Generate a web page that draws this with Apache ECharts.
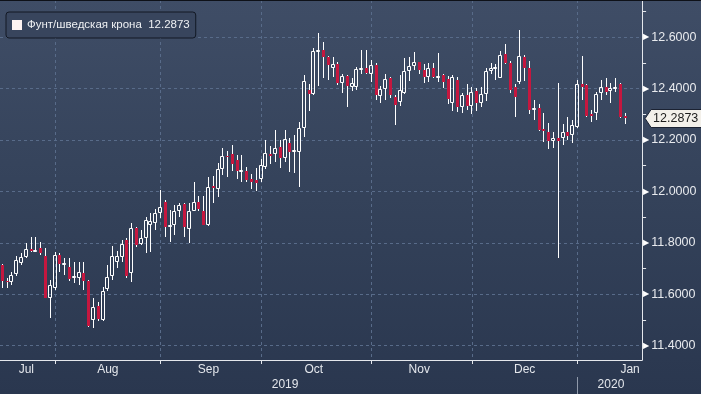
<!DOCTYPE html>
<html><head><meta charset="utf-8">
<script src="https://cdn.jsdelivr.net/npm/echarts@6/dist/echarts.min.js"></script>
<style>
html,body{margin:0;padding:0;background:#2c3a52;}
#c{width:701px;height:394px;background:linear-gradient(to bottom,#3f4d66 0%,#34425a 50%,#2a374f 100%);}
</style></head><body><div id="c"></div>
<script>
const seriesName = 'Фунт/шведская крона';
const lastPrice = 12.2873;

const dates = [
'2019-07-17','2019-07-18','2019-07-19','2019-07-22','2019-07-23','2019-07-24','2019-07-25','2019-07-26','2019-07-29','2019-07-30','2019-07-31',
'2019-08-01','2019-08-02','2019-08-05','2019-08-06','2019-08-07','2019-08-08','2019-08-09','2019-08-12','2019-08-13','2019-08-14','2019-08-15','2019-08-16','2019-08-19','2019-08-20','2019-08-21','2019-08-22','2019-08-23','2019-08-26','2019-08-27','2019-08-28','2019-08-29','2019-08-30',
'2019-09-02','2019-09-03','2019-09-04','2019-09-05','2019-09-06','2019-09-09','2019-09-10','2019-09-11','2019-09-12','2019-09-13','2019-09-16','2019-09-17','2019-09-18','2019-09-19','2019-09-20','2019-09-23','2019-09-24','2019-09-25','2019-09-26','2019-09-27','2019-09-30',
'2019-10-01','2019-10-02','2019-10-03','2019-10-04','2019-10-07','2019-10-08','2019-10-09','2019-10-10','2019-10-11','2019-10-14','2019-10-15','2019-10-16','2019-10-17','2019-10-18','2019-10-21','2019-10-22','2019-10-23','2019-10-24','2019-10-25','2019-10-28','2019-10-29','2019-10-30','2019-10-31',
'2019-11-01','2019-11-04','2019-11-05','2019-11-06','2019-11-07','2019-11-08','2019-11-11','2019-11-12','2019-11-13','2019-11-14','2019-11-15','2019-11-18','2019-11-19','2019-11-20','2019-11-21','2019-11-22','2019-11-25','2019-11-26','2019-11-27','2019-11-28','2019-11-29',
'2019-12-02','2019-12-03','2019-12-04','2019-12-05','2019-12-06','2019-12-09','2019-12-10','2019-12-11','2019-12-12','2019-12-13','2019-12-16','2019-12-17','2019-12-18','2019-12-19','2019-12-20','2019-12-23','2019-12-24','2019-12-25','2019-12-26','2019-12-27','2019-12-30','2019-12-31',
'2020-01-01','2020-01-02','2020-01-03','2020-01-06','2020-01-07','2020-01-08','2020-01-09','2020-01-10','2020-01-13','2020-01-14','2020-01-15','2020-01-16','2020-01-17','2020-01-20'
];

const open = [
11.712,11.652,11.647,11.678,11.721,11.743,11.777,11.770,11.779,11.749,11.585,
11.624,11.753,11.712,11.705,11.662,11.665,11.682,11.652,11.500,11.556,11.500,11.620,11.669,11.727,11.746,11.811,11.682,11.857,11.796,11.818,11.870,11.876,
11.915,11.960,11.866,11.870,11.922,11.951,11.853,11.922,11.957,11.925,11.870,12.021,12.008,12.086,12.138,12.146,12.122,12.080,12.081,12.048,12.045,
12.047,12.095,12.146,12.147,12.174,12.130,12.190,12.155,12.155,12.248,12.395,12.378,12.547,12.550,12.522,12.482,12.496,12.421,12.448,12.408,12.405,12.479,12.482,
12.457,12.492,12.372,12.397,12.440,12.369,12.349,12.384,12.469,12.488,12.505,12.473,12.444,12.481,12.447,12.453,12.437,12.345,12.435,12.330,12.376,
12.334,12.389,12.343,12.378,12.469,12.481,12.443,12.534,12.499,12.408,12.425,12.525,12.479,12.316,12.324,12.242,12.230,12.197,12.207,12.207,12.230,12.220,
12.252,12.417,12.414,12.300,12.304,12.382,12.408,12.391,12.398,12.417,12.293
];
const close = [
11.650,11.647,11.675,11.734,11.744,11.775,11.769,11.773,11.762,11.587,11.634,
11.753,11.717,11.721,11.659,11.669,11.686,11.650,11.477,11.552,11.504,11.611,11.666,11.747,11.749,11.796,11.669,11.857,11.792,11.818,11.889,11.883,11.915,
11.941,11.863,11.870,11.922,11.947,11.863,11.922,11.957,11.931,11.870,12.016,12.012,12.086,12.136,12.133,12.105,12.081,12.084,12.045,12.036,12.032,
12.103,12.150,12.137,12.168,12.132,12.205,12.153,12.160,12.246,12.430,12.380,12.546,12.550,12.522,12.492,12.495,12.421,12.449,12.409,12.423,12.475,12.482,12.460,
12.492,12.375,12.397,12.439,12.375,12.336,12.395,12.469,12.488,12.505,12.473,12.445,12.481,12.447,12.450,12.424,12.361,12.446,12.329,12.376,12.334,
12.386,12.343,12.378,12.469,12.479,12.483,12.531,12.499,12.395,12.369,12.529,12.479,12.315,12.326,12.239,12.235,12.198,12.207,12.196,12.230,12.217,12.259,
12.417,12.408,12.295,12.294,12.378,12.405,12.388,12.401,12.405,12.289,12.2873
];
const low = [
11.626,11.626,11.637,11.669,11.714,11.740,11.766,11.764,11.753,11.585,11.507,
11.617,11.688,11.675,11.652,11.643,11.637,11.617,11.474,11.468,11.494,11.494,11.611,11.656,11.701,11.727,11.662,11.649,11.785,11.792,11.759,11.766,11.850,
11.896,11.824,11.805,11.831,11.902,11.824,11.798,11.922,11.925,11.868,11.867,11.954,11.980,12.065,12.058,12.080,12.050,12.038,12.038,12.008,12.003,
12.038,12.087,12.106,12.116,12.093,12.115,12.077,12.070,12.016,12.213,12.313,12.374,12.410,12.440,12.434,12.447,12.414,12.382,12.330,12.392,12.395,12.457,12.457,
12.427,12.356,12.343,12.356,12.362,12.259,12.333,12.379,12.431,12.473,12.457,12.421,12.427,12.440,12.427,12.401,12.340,12.313,12.310,12.304,12.317,
12.300,12.313,12.330,12.352,12.456,12.434,12.440,12.495,12.382,12.291,12.417,12.430,12.300,12.278,12.235,12.194,12.165,12.170,11.742,12.181,12.200,12.187,
12.246,12.356,12.291,12.272,12.278,12.356,12.375,12.343,12.388,12.285,12.263
];
const high = [
11.716,11.665,11.688,11.747,11.760,11.799,11.821,11.821,11.805,11.779,11.656,
11.766,11.760,11.740,11.740,11.727,11.725,11.727,11.655,11.585,11.569,11.630,11.714,11.789,11.770,11.811,11.818,11.876,11.863,11.850,11.902,11.915,11.931,
12.006,11.967,11.928,11.947,11.954,11.954,11.956,12.038,11.982,11.982,12.058,12.060,12.110,12.168,12.158,12.181,12.140,12.142,12.097,12.068,12.090,
12.127,12.200,12.178,12.239,12.200,12.240,12.207,12.220,12.272,12.455,12.420,12.560,12.615,12.583,12.527,12.524,12.505,12.457,12.453,12.440,12.486,12.550,12.550,
12.511,12.499,12.410,12.457,12.447,12.375,12.453,12.518,12.524,12.544,12.505,12.495,12.501,12.499,12.539,12.457,12.449,12.453,12.446,12.385,12.419,
12.408,12.401,12.408,12.479,12.499,12.495,12.547,12.573,12.508,12.417,12.628,12.531,12.508,12.356,12.339,12.304,12.265,12.230,12.421,12.261,12.291,12.278,
12.434,12.528,12.417,12.317,12.388,12.434,12.440,12.421,12.440,12.421,12.304
];

const monthNames = ['Jan','Feb','Mar','Apr','May','Jun','Jul','Aug','Sep','Oct','Nov','Dec'];
const monthLabelDates = ['2019-07-24','2019-08-16','2019-09-16','2019-10-16','2019-11-15','2019-12-17','2020-01-16'];
const yearLabelDates = ['2019-10-08','2020-01-10'];
const yearSeparatorDates = ['2020-01-01'];

const monthLabelMap = new Map(monthLabelDates.map(d => [dates.indexOf(d), monthNames[parseInt(d.slice(5,7),10)-1]]));
const yearLabelMap = new Map(yearLabelDates.map(d => [dates.indexOf(d), d.slice(0,4)]));
const yearSepSet = new Set(yearSeparatorDates.map(d => dates.indexOf(d)));
const monthStartSet = new Set();
dates.forEach((d,i) => { if (i > 0 && d.slice(5,7) !== dates[i-1].slice(5,7)) monthStartSet.add(i); });

const candleData = open.map((o,i) => [i, o, close[i], low[i], high[i]]);

const RED = '#c5173f', WHITE = '#ffffff';
const AXIS = '#e4e7ec', GRID = '#586b89';

function renderCandle(params, api) {
  const i = api.value(0), o = api.value(1), c = api.value(2), l = api.value(3), h = api.value(4);
  const pO = api.coord([i, o]), pC = api.coord([i, c]);
  const yL = Math.round(api.coord([i, l])[1]), yH = Math.round(api.coord([i, h])[1]);
  const col = Math.floor(pO[0]);
  const xw = col + 0.5;
  const top = Math.round(Math.min(pO[1], pC[1])), bot = Math.round(Math.max(pO[1], pC[1]));
  const ws = {stroke: WHITE, lineWidth: 1};
  const ch = [];
  if (c < o) {
    ch.push({type:'line', shape:{x1:xw, y1:yH, x2:xw, y2:yL}, style:ws});
    ch.push({type:'rect', shape:{x:col-1, y:top, width:3, height:Math.max(1, bot-top)}, style:{fill:RED}});
  } else {
    const yt = top + 0.5;
    const yb = Math.max(bot - 0.5, yt + 1);
    if (yH < yt) ch.push({type:'line', shape:{x1:xw, y1:yH, x2:xw, y2:yt}, style:ws});
    if (yL > yb) ch.push({type:'line', shape:{x1:xw, y1:yb, x2:xw, y2:yL}, style:ws});
    ch.push({type:'rect', shape:{x:col-1.5, y:yt, width:3, height:yb-yt}, style:{fill:'none', stroke:WHITE, lineWidth:1}});
  }
  return {type:'group', children: ch};
}

function renderTag(params, api) {
  const p = api.coord([api.value(0), api.value(1)]);
  const x0 = params.coordSys.x + params.coordSys.width;
  const y = Math.round(p[1]) + 0.5;
  return {type:'group', children:[
    {type:'polygon', shape:{points:[[x0+3,y],[x0+9,y-9],[x0+62,y-9],[x0+62,y+9],[x0+9,y+9]]},
     style:{fill:'#f3f0ea', stroke:'#1b2232', lineWidth:1}},
    {type:'text', style:{text: api.value(1).toFixed(4), x:x0+11, y:y, verticalAlign:'middle', align:'left',
      fill:'#1c1c1c', font:'12.5px "Liberation Sans", Arial, sans-serif'}}
  ]};
}

function isMajor(v) { return Math.abs(v*5 - Math.round(v*5)) < 1e-6; }

const chart = echarts.init(document.getElementById('c'), null, {renderer:'canvas'});
chart.setOption({
  animation: false,
  backgroundColor: 'transparent',
  textStyle: {fontFamily: '"Liberation Sans", Arial, sans-serif'},
  grid: {left: -1.1, top: 0, width: 643.2, height: 360, containLabel: false},
  legend: {
    data: [{name: seriesName, icon: 'rect', itemStyle: {color: '#fff4f2'}}],
    left: 6, top: 12, itemWidth: 10, itemHeight: 10, padding: [7, 6, 7, 6],
    backgroundColor: '#38455d', borderColor: '#121824', borderWidth: 1, borderRadius: 3,
    selectedMode: false,
    textStyle: {color: '#eef0f3', fontFamily: '"Liberation Sans", Arial, sans-serif', fontSize: 11.5},
    formatter: n => n + '  ' + lastPrice.toFixed(4)
  },
  xAxis: [{
    type: 'category', data: dates, boundaryGap: true,
    axisLine: {show: true, lineStyle: {color: AXIS, width: 1}},
    axisTick: {show: true, alignWithLabel: true, interval: i => monthStartSet.has(i), length: 4, lineStyle: {color: AXIS}},
    splitLine: {show: true, alignWithLabel: true, interval: i => monthStartSet.has(i), lineStyle: {color: GRID, type: [3,3], width: 1}},
    axisLabel: {interval: i => monthLabelMap.has(i), formatter: (v, i) => monthLabelMap.get(i) || '',
      color: AXIS, fontSize: 12, margin: 4, fontFamily: '"Liberation Sans", Arial, sans-serif'}
  }, {
    type: 'category', data: dates, boundaryGap: true, position: 'bottom', offset: 17, gridIndex: 0,
    axisLine: {show: false},
    axisTick: {show: true, alignWithLabel: true, interval: i => yearSepSet.has(i), length: 17, lineStyle: {color: '#8f99aa'}},
    splitLine: {show: false},
    axisLabel: {interval: i => yearLabelMap.has(i), formatter: (v, i) => yearLabelMap.get(i) || '',
      color: AXIS, fontSize: 12, margin: 2, fontFamily: '"Liberation Sans", Arial, sans-serif'}
  }],
  yAxis: {
    type: 'value', position: 'right', min: 11.344, max: 12.745, splitNumber: 7,
    axisLine: {show: true, lineStyle: {color: AXIS, width: 1}},
    axisTick: {show: false},
    minorTick: {show: true, splitNumber: 2, length: 4, lineStyle: {color: AXIS}},
    splitLine: {show: true, lineStyle: {color: GRID, type: [3,3], width: 1}},
    axisLabel: {
      margin: 1,
      formatter: v => isMajor(v) ? '{t|\u25B6}{n|' + v.toFixed(4) + '}' : '',
      rich: {
        t: {fontFamily: 'DejaVu Sans', fontSize: 8, color: '#ffffff', padding: [0, 2, 0, 0]},
        n: {fontFamily: '"Liberation Sans", Arial, sans-serif', fontSize: 12.5, color: '#e8eaee'}
      }
    }
  },
  graphic: [{type: 'rect', left: 0, top: 0, shape: {width: 701, height: 1}, style: {fill: '#0e1118'}, z: 100}],
  series: [{
    type: 'custom', name: seriesName, data: candleData, renderItem: renderCandle,
    encode: {x: 0, y: [1, 2, 3, 4]}, itemStyle: {color: '#ffffff'}, clip: true, silent: true
  }, {
    type: 'custom', name: 'last', data: [[open.length - 1, lastPrice]], renderItem: renderTag,
    encode: {x: 0, y: 1}, clip: false, silent: true, z: 10
  }]
});
</script>
</body></html>
